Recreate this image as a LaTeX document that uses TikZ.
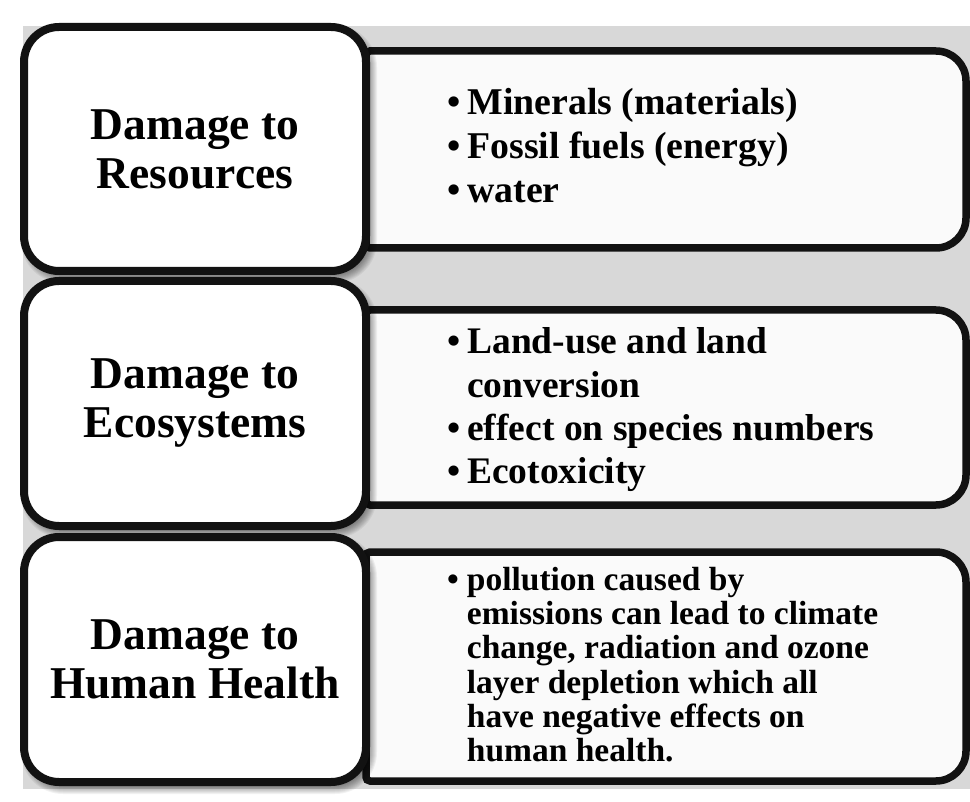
\documentclass[tikz,border=0pt]{standalone}
\usepackage{fontspec}
\setmainfont{Liberation Serif}
\definecolor{bggray}{HTML}{D8D8D8}
\definecolor{rfill}{HTML}{FAFAFA}
\definecolor{ink}{HTML}{121212}
\pgfdeclarelayer{bglayer}
\pgfdeclarelayer{shadowlayer}
\pgfsetlayers{bglayer,shadowlayer,main}
\newcommand\mysoftshadow[4]{%
  \foreach \e in {-2,...,7}{%
    \fill[black,opacity=0.05,rounded corners={35+\e}]
      ({#1+4-\e},{#2+5-\e}) rectangle ({#3+4+\e},{#4+5+\e});
  }%
}
\newcommand\myrbox[2]{%
  \draw[rbox] (366,{(#1+#2)/2}) [rounded corners=4] -- (366,#1)
     [rounded corners=30] -- (966,#1) -- (966,#2)
     [rounded corners=4] -- (366,#2) -- cycle;
}
\begin{document}
\begin{tikzpicture}[x=1pt,y=-1pt,
  leftbox/.style={draw=ink,line width=8pt,fill=white,rounded corners=35,
    minimum width=342pt,minimum height=244pt,inner sep=0pt,align=center,
    font=\fontsize{45.5}{49}\selectfont\bfseries},
  rbox/.style={draw=ink,line width=7.5pt,fill=rfill},
  itemtext/.style={anchor=base west,inner sep=0pt},
]
\useasboundingbox (0,0) rectangle (970,802);
\begin{pgfonlayer}{bglayer}
  \fill[bggray] (23,26) rectangle (970,789);
  \myrbox{51}{248}
  \myrbox{310}{505}
  \myrbox{552}{781}
\end{pgfonlayer}
\begin{pgfonlayer}{shadowlayer}
  \mysoftshadow{24}{27}{366}{271}
  \mysoftshadow{24}{281}{366}{526}
  \mysoftshadow{24}{537}{366}{782}
\end{pgfonlayer}
\node[leftbox] (res) at (195,149) {Damage to\\Resources};
\node[leftbox,minimum height=245pt] (eco) at (195,403.5) {Damage to\\Ecosystems};
\node[leftbox,minimum height=245pt] (hum) at (195,659.5) {Damage to\\Human Health};

\node[itemtext] (restext) at (447,115) {\fontsize{37.8}{44}\selectfont\bfseries
  \begin{tabular}[t]{@{}l@{\hspace{7pt}}l@{}}
  • & Minerals (materials)\\
  • & Fossil fuels (energy)\\
  • & water
  \end{tabular}};
\node[itemtext] (ecotext) at (447,354) {\fontsize{37.5}{43.3}\selectfont\bfseries
  \begin{tabular}[t]{@{}l@{\hspace{7pt}}l@{}}
  • & Land-use and land\\
    & conversion\\
  • & effect on species numbers\\
  • & Ecotoxicity
  \end{tabular}};
\node[itemtext] (humtext) at (447,590) {\fontsize{33.5}{34.4}\selectfont\bfseries
  \begin{tabular}[t]{@{}l@{\hspace{8pt}}l@{}}
  • & pollution caused by\\
    & emissions can lead to climate\\
    & change, radiation and ozone\\
    & layer depletion which all\\
    & have negative effects on\\
    & human health.
  \end{tabular}};
\end{tikzpicture}
\end{document}
